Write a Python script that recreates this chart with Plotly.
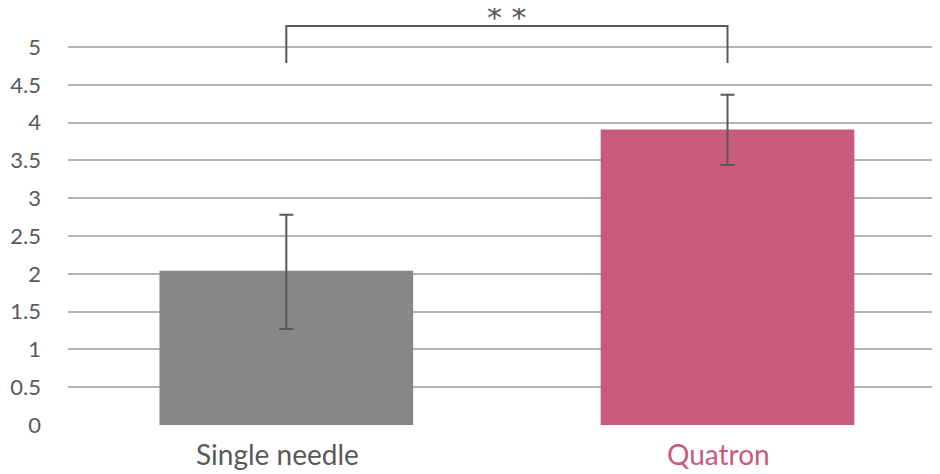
import plotly.graph_objects as go

# data
groups = ["Single needle", "Quatron"]
means = [2.04, 3.91]
err_plus = [0.74, 0.46]
err_minus = [0.77, 0.47]
bar_colors = ["#878787", "#C85A7B"]
label_colors = ["#595959", "#C85A7B"]

y_ticks = [0, 0.5, 1, 1.5, 2, 2.5, 3, 3.5, 4, 4.5, 5]
y_tick_text = ["0", "0.5", "1", "1.5", "2", "2.5", "3", "3.5", "4", "4.5", "5"]

# significance bracket between the two groups
bracket_top = 5.28
bracket_bottom = 4.79
sig_label = "* *"

x_pos = list(range(len(groups)))

fig = go.Figure()

fig.add_trace(go.Bar(
    x=x_pos,
    y=means,
    width=0.575,
    marker=dict(color=bar_colors, line=dict(width=0)),
    error_y=dict(
        type="data",
        array=err_plus,
        arrayminus=err_minus,
        color="#595959",
        thickness=2,
        width=7,
    ),
    showlegend=False,
    hoverinfo="skip",
))

fig.add_trace(go.Scatter(
    x=[x_pos[0], x_pos[0], x_pos[1], x_pos[1]],
    y=[bracket_bottom, bracket_top, bracket_top, bracket_bottom],
    mode="lines",
    line=dict(color="#595959", width=2),
    showlegend=False,
    hoverinfo="skip",
))

fig.add_annotation(
    x=(x_pos[0] + x_pos[1]) / 2,
    y=1,
    xref="x",
    yref="paper",
    text=sig_label,
    showarrow=False,
    font=dict(size=30, color="#595959", family="DejaVu Sans"),
    yanchor="top",
    yshift=10,
)

# category labels, set a little left of the bar centres as in the original
for xp, g, c in zip(x_pos, groups, label_colors):
    fig.add_annotation(
        x=xp, y=0, xref="x", yref="paper",
        text=g, showarrow=False,
        font=dict(size=28, color=c),
        yanchor="top", xshift=-9, yshift=-10,
    )

# the page body has an 8px margin, so the figure is drawn 8px smaller
fig.update_layout(
    width=932,
    height=466,
    margin=dict(l=60, r=0, t=0, b=49),
    plot_bgcolor="white",
    paper_bgcolor="white",
    font=dict(family="Lato", color="#595959"),
    xaxis=dict(
        range=[-0.4948, 1.4816],
        tickvals=x_pos,
        showticklabels=False,
        showgrid=False,
        zeroline=False,
        showline=False,
        ticks="",
        automargin=False,
    ),
    yaxis=dict(
        range=[0, 5.517],
        tickvals=y_ticks,
        ticktext=y_tick_text,
        tickfont=dict(size=22, color="#595959"),
        showgrid=True,
        gridcolor="#b3b3b3",
        gridwidth=2,
        zeroline=False,
        showline=False,
        ticks="",
        ticklabelstandoff=26,
        automargin=False,
    ),
)

fig.write_html("out.html")
